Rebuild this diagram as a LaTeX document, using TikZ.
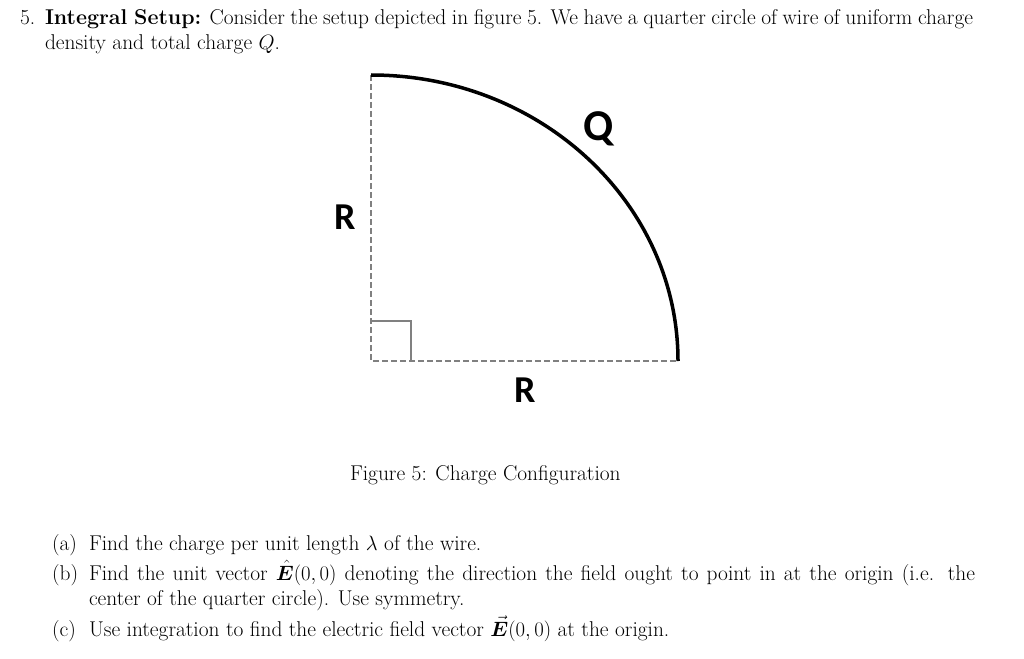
\documentclass[tikz,border=0pt]{standalone}
\usepackage{amsmath,bm}
\usepackage{fontspec}
\newfontfamily\labfont{Carlito}
\tikzset{
  txt/.style={anchor=base west, inner sep=0pt, outer sep=0pt, font=\fontsize{21.4}{25}\selectfont},
  lab/.style={inner sep=0pt, font=\labfont\bfseries\fontsize{38}{40}\selectfont},
  biglab/.style={lab, font=\labfont\bfseries\fontsize{44}{46}\selectfont},
  guide/.style={draw=black!50, line width=1.6pt, dash pattern=on 6pt off 3pt},
  corner/.style={draw=black!50, line width=1.6pt},
  wire/.style={draw=black, line width=3.5pt}
}
\begin{document}
\begin{tikzpicture}[x=1pt,y=1pt]
\useasboundingbox (0,0) rectangle (1024,-658);
% text
\node[txt] (n5) at (20,-25) {5.};
\node[txt] (l1) at (45,-25) {\makebox[928pt][s]{\textbf{Integral Setup:} Consider the setup depicted in figure 5. We have a quarter circle of wire of uniform charge}};
\node[txt] (l2) at (45,-50) {density and total charge $Q$.};
% figure
\coordinate (O) at (371,-361);
\coordinate (T) at (371,-75);
\coordinate (Rt) at (678,-361);
\draw[guide] (T) -- (O) -- (Rt);
\draw[corner] (371,-321) -- (411,-321) -- (411,-361);
\draw[wire] (T) arc[start angle=90, end angle=0, x radius=307, y radius=286];
\node[lab] (RL) at (345.5,-217.5) {R};
\node[lab] (RB) at (525.5,-390) {R};
\node[biglab] (Q) at (598.5,-129) {Q};
% caption
\node[txt] (cap) at (350,-480) {Figure 5: Charge Configuration};
% items
\node[txt] (ia) at (52,-550) {(a)};
\node[txt] (ta) at (89,-550) {Find the charge per unit length $\lambda$ of the wire.};
\node[txt] (ib) at (52,-580) {(b)};
\node[txt] (tb) at (89,-580) {\makebox[886pt][s]{Find the unit vector $\hat{\bm{E}}(0,0)$ denoting the direction the field ought to point in at the origin (i.e. the}};
\node[txt] (tb2) at (89,-605) {center of the quarter circle). Use symmetry.};
\node[txt] (ic) at (52,-636) {(c)};
\node[txt] (tc) at (89,-636) {Use integration to find the electric field vector $\vec{\bm{E}}(0,0)$ at the origin.};
\end{tikzpicture}
\end{document}
